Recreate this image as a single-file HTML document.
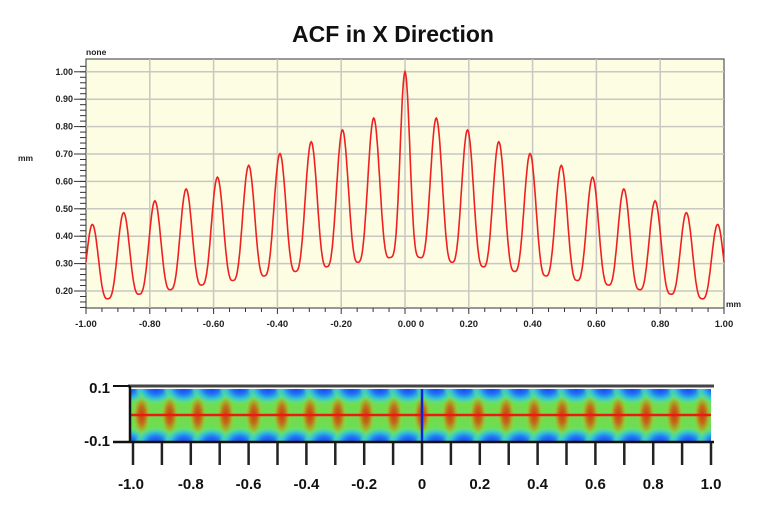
<!DOCTYPE html>
<html><head><meta charset="utf-8"><style>
body{margin:0;background:#fff;width:768px;height:525px;overflow:hidden;font-family:"Liberation Sans",sans-serif}
</style></head><body>
<svg id="s" width="768" height="525" xmlns="http://www.w3.org/2000/svg" font-family="Liberation Sans, sans-serif">
<defs>
<radialGradient id="blue" cx="50%" cy="50%" r="50%">
<stop offset="0" stop-color="#1040ff"/><stop offset="0.35" stop-color="#2070f0"/><stop offset="0.6" stop-color="#30b8e0"/><stop offset="0.85" stop-color="#50e0a0" stop-opacity="0.5"/><stop offset="1" stop-color="#6fe060" stop-opacity="0"/></radialGradient>
<radialGradient id="red" cx="50%" cy="50%" r="50%">
<stop offset="0" stop-color="#c84010"/><stop offset="0.4" stop-color="#c07018"/><stop offset="0.75" stop-color="#a8b828" stop-opacity="0.6"/><stop offset="1" stop-color="#90e040" stop-opacity="0"/></radialGradient>
<clipPath id="hc"><rect x="131" y="389" width="580" height="52"/></clipPath>
</defs>
<text x="393" y="42" text-anchor="middle" font-size="23" font-weight="bold" fill="#111">ACF in X Direction</text>
<text x="86" y="55" font-size="8.5" font-weight="bold" fill="#222">none</text>
<text x="18" y="161" font-size="8.5" font-weight="bold" fill="#222">mm</text>
<text x="726" y="307" font-size="8.5" font-weight="bold" fill="#222">mm</text>
<rect x="86" y="59" width="638" height="249" fill="#fdfde4" stroke="#333" stroke-width="1"/>
<g id="grid"></g>
<g id="hm" clip-path="url(#hc)"></g>
</svg>
<script>
var s=document.getElementById('s'),g=document.getElementById('grid'),ns='http://www.w3.org/2000/svg';
function el(p,t,a,txt){var e=document.createElementNS(ns,t);for(var k in a)e.setAttribute(k,a[k]);if(txt!=null)e.textContent=txt;p.appendChild(e);return e;}
var X=function(v){return 405+v*319;},Y=function(v){return 291-(v-0.2)*274;};
for(var i=-4;i<=4;i++){el(g,'line',{x1:X(i*0.2),x2:X(i*0.2),y1:59,y2:308,stroke:'#c8c8c0','stroke-width':1.5});}
for(var v=2;v<=10;v++){el(g,'line',{x1:86,x2:724,y1:Y(v/10),y2:Y(v/10),stroke:'#c8c8c0','stroke-width':1.5});
el(s,'text',{x:73,y:Y(v/10)+3,'text-anchor':'end','font-size':9,'font-weight':'bold',fill:'#222'},(v/10).toFixed(2));
el(s,'line',{x1:74,x2:86,y1:Y(v/10),y2:Y(v/10),stroke:'#333'});}
for(var y=Y(1.02);y<308;y+=5.48)el(s,'line',{x1:80,x2:86,y1:y,y2:y,stroke:'#333'});
for(var i=-20;i<=20;i++){var x=X(i*0.05);el(s,'line',{x1:x,x2:x,y1:308,y2:i%4==0?314:312,stroke:'#333'});}
var xl=['-1.00','-0.80','-0.60','-0.40','-0.20','0.00 0','0.20','0.40','0.60','0.80','1.00'];
for(var i=0;i<11;i++)el(s,'text',{x:X(-1+i*0.2)+(i==5?6:0),y:327,'text-anchor':'middle','font-size':9.5,'font-weight':'bold',fill:'#222'},xl[i]);
var P=0.098,pts=[];
for(var x=-1;x<=1.0001;x+=0.002){var a=Math.abs(x);var k=Math.round(a/P);var ph=(a-k*P)/P;var pk=k==0?1.0:0.874-0.44*k*P;var mn=0.33-0.17*a;
var c=(1+Math.cos(2*Math.PI*ph))/2;var pw=k==0?2.2:1.5;var val=mn+(pk-mn)*Math.pow(c,pw);pts.push(X(x).toFixed(1)+','+Y(val).toFixed(1));}
el(s,'polyline',{points:pts.join(' '),fill:'none',stroke:'#f02020','stroke-width':1.6});
var hm=document.getElementById('hm');
var HX=function(v){return 422+v*289;};
el(hm,'rect',{x:131,y:389,width:580,height:52,fill:'#70dd50'});
for(var k=-10;k<=10;k++){var c=HX(k*0.097);el(hm,'ellipse',{cx:c,cy:415,rx:9,ry:22,fill:'url(#red)'});}
for(var k=-11;k<=10;k++){var c=HX((k+0.5)*0.097);
el(hm,'ellipse',{cx:c,cy:388,rx:21,ry:17,fill:'url(#blue)'});el(hm,'ellipse',{cx:c,cy:443,rx:21,ry:17,fill:'url(#blue)'});}
el(hm,'line',{x1:131,x2:711,y1:415,y2:415,stroke:'#ee1a10','stroke-width':2.5});
el(hm,'line',{x1:422,x2:422,y1:389,y2:441,stroke:'#1020e0','stroke-width':2.5});
el(s,'line',{x1:128,x2:714,y1:386,y2:386,stroke:'#444','stroke-width':3});
el(s,'line',{x1:130,x2:130,y1:386,y2:443,stroke:'#111','stroke-width':2.5});
el(s,'line',{x1:113,x2:130,y1:386,y2:386,stroke:'#111','stroke-width':2});
el(s,'line',{x1:113,x2:714,y1:442,y2:442,stroke:'#111','stroke-width':2.5});
el(s,'text',{x:110,y:393,'text-anchor':'end','font-size':15,'font-weight':'bold',fill:'#111'},'0.1');
el(s,'text',{x:110,y:446,'text-anchor':'end','font-size':15,'font-weight':'bold',fill:'#111'},'-0.1');
for(var i=-10;i<=10;i++){var x=HX(i*0.1);if(i==-10)x=133;el(s,'line',{x1:x,x2:x,y1:443,y2:465,stroke:'#222','stroke-width':2.5});}
var bl=['-1.0','-0.8','-0.6','-0.4','-0.2','0','0.2','0.4','0.6','0.8','1.0'];
for(var i=0;i<11;i++){var x=HX(-1+i*0.2);if(i==0)x=131;el(s,'text',{x:x,y:489,'text-anchor':'middle','font-size':15,'font-weight':'bold',fill:'#111'},bl[i]);}
</script>
</body></html>
